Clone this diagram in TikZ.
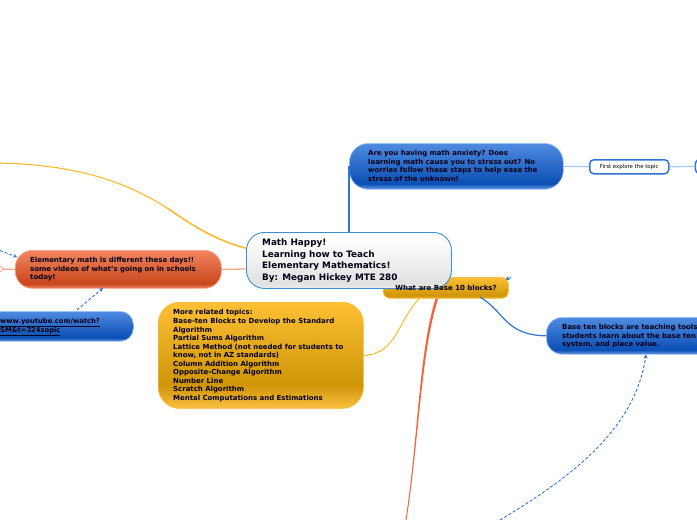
\documentclass[tikz,border=0pt]{standalone}
\usepackage{fontspec}
\setmainfont{DejaVu Sans}
\usetikzlibrary{arrows.meta}
\definecolor{blineA}{HTML}{2E74D6}
\definecolor{blineB}{HTML}{A9C8F2}
\definecolor{yline}{HTML}{FDB92C}
\definecolor{rline}{HTML}{F4633A}
\definecolor{rlineB}{HTML}{F9A58C}
\definecolor{cborder}{HTML}{3A8FD2}
\definecolor{bA}{HTML}{4F8BE0}\definecolor{bB}{HTML}{0B4FB5}\definecolor{bC}{HTML}{6EA0E8}
\definecolor{rA}{HTML}{F28660}\definecolor{rB}{HTML}{C9461C}\definecolor{rC}{HTML}{F58764}
\definecolor{oA}{HTML}{FDC035}\definecolor{oB}{HTML}{CF9408}\definecolor{oC}{HTML}{FBC040}
\definecolor{gA}{HTML}{FDFDFD}\definecolor{gB}{HTML}{E0E2E2}\definecolor{gC}{HTML}{ECEEEE}
\pgfdeclareverticalshading{bluetop}{100bp}{
  color(0bp)=(bC);color(25bp)=(bC);color(31bp)=(bB);color(75bp)=(bA);color(100bp)=(bA)}
\pgfdeclareverticalshading{redtop}{100bp}{
  color(0bp)=(rC);color(25bp)=(rC);color(31bp)=(rB);color(75bp)=(rA);color(100bp)=(rA)}
\pgfdeclareverticalshading{orangetop}{100bp}{
  color(0bp)=(oC);color(25bp)=(oC);color(31bp)=(oB);color(75bp)=(oA);color(100bp)=(oA)}
\pgfdeclareverticalshading{orangebig}{100bp}{
  color(0bp)=(oC);color(25bp)=(oC);color(36bp)=(oB);color(75bp)=(oA);color(100bp)=(oA)}
\pgfdeclareverticalshading{greytop}{100bp}{
  color(0bp)=(gC);color(25bp)=(gC);color(30bp)=(gB);color(68bp)=(gA);color(100bp)=(gA)}
\tikzset{
  box/.style={rounded corners=#1,inner sep=0pt,anchor=north west,align=left},
  box/.default=18pt,
  bluebox/.style={shading=bluetop,draw=blineB,line width=.7pt},
  redbox/.style={shading=redtop,draw=rlineB,line width=.7pt},
  orangebox/.style={shading=orangetop,draw=yline,line width=.7pt},
  orangebig/.style={shading=orangebig,draw=yline,line width=.7pt},
  central/.style={shading=greytop,draw=cborder,line width=.9pt},
  topicbox/.style={draw=blineA,fill=white,line width=1.5pt},
  label/.style={font=\fontsize{6.95}{8.6}\selectfont\bfseries,align=left,anchor=north west,inner sep=0pt,text=black!92!blue},
  link/.style={densely dashed,draw=blineA,line width=.9pt,-{Stealth[length=4pt,width=4pt]}},
}
\begin{document}
\begin{tikzpicture}[x=1pt,y=-1pt]
\useasboundingbox (0,0) rectangle (697,520);
\clip (0,0) rectangle (697,520);
% node bodies
\node[box=19pt,bluebox,minimum width=214pt,minimum height=46pt] (anx) at (349,143) {};
\node[box=4pt,topicbox,minimum width=79pt,minimum height=14pt] (first) at (589,159) {};
\node[box=6pt,topicbox,minimum width=30pt,minimum height=15.5pt] (next) at (694.5,158) {};
\node[box=7pt,orangebox,minimum width=125pt,minimum height=21pt] (what) at (383,277) {};
\node[box=16pt,bluebox,minimum width=170pt,minimum height=37pt] (base) at (546,317) {};
\node[box=17pt,redbox,minimum width=206pt,minimum height=38pt] (elem) at (15,250) {};
\node[box=13pt,bluebox,minimum width=170pt,minimum height=30pt] (yt) at (-37,311) {};
\node[box=21pt,orangebig,minimum width=205pt,minimum height=106pt] (more) at (158,302) {};
\node[circle,draw=rlineB,fill=white,line width=.8pt,minimum size=6pt,inner sep=0pt] (pink) at (-.5,269) {};
\coordinate (redend) at (406,520);
\coordinate (yleft) at (0,163);
\coordinate (l1) at (0,250.5);
\coordinate (l1e) at (17,257);
\coordinate (l2) at (500,520);
\coordinate (l3) at (505.5,279.5);
\coordinate (l3s) at (511,277.5);
\coordinate (ytl) at (77,310);
\coordinate (elemb) at (103,288);
\coordinate (redA) at ([xshift=-9pt]what.south);
\coordinate (ymid) at (167,208);
\coordinate (ycent) at (247,248.5);
\coordinate (yw) at (421,297);
\coordinate (bw) at (480,297);
\coordinate (basetip) at (646,354.5);
% connectors
\draw[blineB,line width=1.2pt] (anx.east) -- (first.west);
\draw[blineB,line width=1.2pt] (first.east) -- (next.west);
\draw[rlineB,line width=1.3pt] (elem.east) -- (247,269);
\draw[rlineB,line width=1.3pt] (pink) -- (elem.west);
\draw[blineA,line width=1.2pt] (anx.west) -- (349,233);
\draw[yline,line width=1.1pt] (yleft) .. controls (70,165) and (120,178) .. (ymid);
\draw[yline,line width=1.6pt] (ymid) .. controls (195,227) and (215,240) .. (ycent);
\draw[yline,line width=1pt] (more.east) .. controls (398,354) and (398,318) .. (yw);
\draw[blineA,line width=1.2pt] (bw) .. controls (505,312) and (505,335) .. (base.west);
\fill[rline] ([xshift=-1.3pt]redA) .. controls (419,350) and (418,440) .. ([xshift=-.5pt]redend)
  -- ([xshift=.5pt]redend) .. controls (419,440) and (421.2,350) .. ([xshift=1.3pt]redA) -- cycle;
\draw[link] (l2) .. controls (570,478) and (635,430) .. (basetip);
\draw[link] (l1) -- (l1e);
\draw[link] (ytl) -- (elemb);
\draw[draw=blineA,line width=.9pt,-{Stealth[length=4pt,width=4pt]}] (l3s) -- (l3);
% texts
\node[box=18pt,central,minimum width=205pt,minimum height=56pt] (main) at (246,232) {};
\node[label,font=\fontsize{8.85}{11.4}\selectfont\bfseries] (mt) at (262,239) {Math Happy!\\Learning how to Teach\\Elementary Mathematics!\\By: Megan Hickey MTE 280};
\node[label] (at) at (368,150) {Are you having math anxiety? Does\\learning math cause you to stress out? No\\worries follow these steps to help ease the\\stress of the unknown!};
\node[font=\fontsize{5.4}{6}\selectfont,inner sep=0pt] (ft) at (first.center) {First explore the topic};
\node[label,font=\fontsize{7}{8}\selectfont\bfseries,anchor=center] (wt) at (446,288) {What are Base 10 blocks?};
\node[label] (bt) at (562,324) {Base ten blocks are teaching tools\\students learn about the base ten\\system, and place value.};
\node[label] (et) at (30,257) {Elementary math is different these days!!\\some videos of what's going on in schools\\today!};
\node[label,font=\fontsize{6.95}{8.55}\selectfont\bfseries] (mot) at (173,309.5) {More related topics:\\Base-ten Blocks to Develop the Standard\\Algorithm\\Partial Sums Algorithm\\Lattice Method (not needed for students to\\know, not in AZ standards)\\Column Addition Algorithm\\Opposite-Change Algorithm\\Number Line\\Scratch Algorithm\\Mental Computations and Estimations};
\node[label,font=\fontsize{6.75}{9}\selectfont\bfseries] (ytt) at (0,318) {\underline{www.youtube.com/watch?}\\\underline{SM\&t=324sopic}};
\end{tikzpicture}
\end{document}
